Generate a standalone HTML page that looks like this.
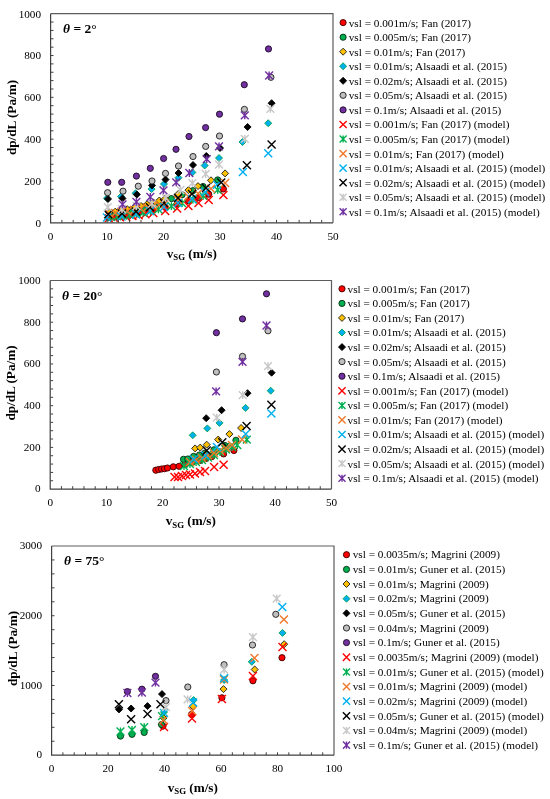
<!DOCTYPE html>
<html><head><meta charset="utf-8"><style>
html,body{margin:0;padding:0;background:#fff;}
svg{display:block;}
text{font-family:'Liberation Serif', 'DejaVu Serif', serif;fill:#000;}
.tl{font-size:11.2px;}
.lg{font-size:11.25px;}
.at{font-size:13.2px;font-weight:bold;}
.sub{font-size:8.8px;}
.th{font-size:13.5px;font-weight:bold;}
</style></head><body>
<svg width="550" height="799" viewBox="0 0 550 799">
<rect width="550" height="799" fill="#fff"/>
<circle cx="108.7" cy="217.7" r="3.10" fill="#ff0000" stroke="#3a0000" stroke-width="0.9"/>
<circle cx="114.3" cy="216.9" r="3.10" fill="#ff0000" stroke="#3a0000" stroke-width="0.9"/>
<circle cx="120.0" cy="216.1" r="3.10" fill="#ff0000" stroke="#3a0000" stroke-width="0.9"/>
<circle cx="126.2" cy="215.1" r="3.10" fill="#ff0000" stroke="#3a0000" stroke-width="0.9"/>
<circle cx="132.4" cy="214.1" r="3.10" fill="#ff0000" stroke="#3a0000" stroke-width="0.9"/>
<circle cx="138.6" cy="212.9" r="3.10" fill="#ff0000" stroke="#3a0000" stroke-width="0.9"/>
<circle cx="145.4" cy="211.6" r="3.10" fill="#ff0000" stroke="#3a0000" stroke-width="0.9"/>
<circle cx="153.3" cy="209.9" r="3.10" fill="#ff0000" stroke="#3a0000" stroke-width="0.9"/>
<circle cx="165.2" cy="207.1" r="3.10" fill="#ff0000" stroke="#3a0000" stroke-width="0.9"/>
<circle cx="177.1" cy="204.0" r="3.10" fill="#ff0000" stroke="#3a0000" stroke-width="0.9"/>
<circle cx="188.4" cy="200.7" r="3.10" fill="#ff0000" stroke="#3a0000" stroke-width="0.9"/>
<circle cx="198.5" cy="197.6" r="3.10" fill="#ff0000" stroke="#3a0000" stroke-width="0.9"/>
<circle cx="208.7" cy="194.2" r="3.10" fill="#ff0000" stroke="#3a0000" stroke-width="0.9"/>
<circle cx="223.4" cy="189.0" r="3.10" fill="#ff0000" stroke="#3a0000" stroke-width="0.9"/>
<circle cx="111.0" cy="213.9" r="3.10" fill="#00b050" stroke="#0a2a10" stroke-width="0.9"/>
<circle cx="117.2" cy="212.8" r="3.10" fill="#00b050" stroke="#0a2a10" stroke-width="0.9"/>
<circle cx="123.4" cy="211.6" r="3.10" fill="#00b050" stroke="#0a2a10" stroke-width="0.9"/>
<circle cx="129.6" cy="210.3" r="3.10" fill="#00b050" stroke="#0a2a10" stroke-width="0.9"/>
<circle cx="136.4" cy="208.7" r="3.10" fill="#00b050" stroke="#0a2a10" stroke-width="0.9"/>
<circle cx="143.2" cy="207.0" r="3.10" fill="#00b050" stroke="#0a2a10" stroke-width="0.9"/>
<circle cx="150.5" cy="205.0" r="3.10" fill="#00b050" stroke="#0a2a10" stroke-width="0.9"/>
<circle cx="158.4" cy="202.7" r="3.10" fill="#00b050" stroke="#0a2a10" stroke-width="0.9"/>
<circle cx="171.4" cy="198.6" r="3.10" fill="#00b050" stroke="#0a2a10" stroke-width="0.9"/>
<circle cx="182.1" cy="194.8" r="3.10" fill="#00b050" stroke="#0a2a10" stroke-width="0.9"/>
<circle cx="192.9" cy="190.7" r="3.10" fill="#00b050" stroke="#0a2a10" stroke-width="0.9"/>
<circle cx="203.1" cy="186.5" r="3.10" fill="#00b050" stroke="#0a2a10" stroke-width="0.9"/>
<circle cx="217.7" cy="179.9" r="3.10" fill="#00b050" stroke="#0a2a10" stroke-width="0.9"/>
<path d="M109.3 209.2L112.8 212.7L109.3 216.2L105.8 212.7Z" fill="#ffc000" stroke="#1a1a1a" stroke-width="0.9"/>
<path d="M115.2 208.2L118.7 211.7L115.2 215.2L111.7 211.7Z" fill="#ffc000" stroke="#1a1a1a" stroke-width="0.9"/>
<path d="M121.1 207.0L124.6 210.5L121.1 214.0L117.6 210.5Z" fill="#ffc000" stroke="#1a1a1a" stroke-width="0.9"/>
<path d="M127.3 205.7L130.8 209.2L127.3 212.7L123.8 209.2Z" fill="#ffc000" stroke="#1a1a1a" stroke-width="0.9"/>
<path d="M134.1 204.1L137.6 207.6L134.1 211.1L130.6 207.6Z" fill="#ffc000" stroke="#1a1a1a" stroke-width="0.9"/>
<path d="M140.9 202.4L144.4 205.9L140.9 209.4L137.4 205.9Z" fill="#ffc000" stroke="#1a1a1a" stroke-width="0.9"/>
<path d="M147.1 200.7L150.6 204.2L147.1 207.7L143.6 204.2Z" fill="#ffc000" stroke="#1a1a1a" stroke-width="0.9"/>
<path d="M153.3 198.9L156.8 202.4L153.3 205.9L149.8 202.4Z" fill="#ffc000" stroke="#1a1a1a" stroke-width="0.9"/>
<path d="M159.3 197.0L162.8 200.5L159.3 204.0L155.8 200.5Z" fill="#ffc000" stroke="#1a1a1a" stroke-width="0.9"/>
<path d="M165.2 195.1L168.7 198.6L165.2 202.1L161.7 198.6Z" fill="#ffc000" stroke="#1a1a1a" stroke-width="0.9"/>
<path d="M178.2 190.5L181.7 194.0L178.2 197.5L174.7 194.0Z" fill="#ffc000" stroke="#1a1a1a" stroke-width="0.9"/>
<path d="M188.4 186.6L191.9 190.1L188.4 193.6L184.9 190.1Z" fill="#ffc000" stroke="#1a1a1a" stroke-width="0.9"/>
<path d="M198.0 182.6L201.5 186.1L198.0 189.6L194.5 186.1Z" fill="#ffc000" stroke="#1a1a1a" stroke-width="0.9"/>
<path d="M211.0 176.8L214.5 180.3L211.0 183.8L207.5 180.3Z" fill="#ffc000" stroke="#1a1a1a" stroke-width="0.9"/>
<path d="M225.1 169.9L228.6 173.4L225.1 176.9L221.6 173.4Z" fill="#ffc000" stroke="#1a1a1a" stroke-width="0.9"/>
<path d="M107.0 194.7L110.5 198.2L107.0 201.7L103.5 198.2Z" fill="#00b0f0" stroke="#00a050" stroke-width="0.9"/>
<path d="M121.0 193.0L124.5 196.5L121.0 200.0L117.5 196.5Z" fill="#00b0f0" stroke="#00a050" stroke-width="0.9"/>
<path d="M135.6 189.7L139.1 193.2L135.6 196.7L132.1 193.2Z" fill="#00b0f0" stroke="#00a050" stroke-width="0.9"/>
<path d="M151.6 185.6L155.1 189.1L151.6 192.6L148.1 189.1Z" fill="#00b0f0" stroke="#00a050" stroke-width="0.9"/>
<path d="M164.0 180.5L167.5 184.0L164.0 187.5L160.5 184.0Z" fill="#00b0f0" stroke="#00a050" stroke-width="0.9"/>
<path d="M178.5 174.2L182.0 177.7L178.5 181.2L175.0 177.7Z" fill="#00b0f0" stroke="#00a050" stroke-width="0.9"/>
<path d="M192.4 168.9L195.9 172.4L192.4 175.9L188.9 172.4Z" fill="#00b0f0" stroke="#00a050" stroke-width="0.9"/>
<path d="M204.7 162.0L208.2 165.5L204.7 169.0L201.2 165.5Z" fill="#00b0f0" stroke="#00a050" stroke-width="0.9"/>
<path d="M219.0 154.5L222.5 158.0L219.0 161.5L215.5 158.0Z" fill="#00b0f0" stroke="#00a050" stroke-width="0.9"/>
<path d="M242.5 138.5L246.0 142.0L242.5 145.5L239.0 142.0Z" fill="#00b0f0" stroke="#00a050" stroke-width="0.9"/>
<path d="M268.2 119.7L271.7 123.2L268.2 126.7L264.7 123.2Z" fill="#00b0f0" stroke="#00a050" stroke-width="0.9"/>
<path d="M108.0 195.5L111.5 199.0L108.0 202.5L104.5 199.0Z" fill="#000000" stroke="#000000" stroke-width="0.9"/>
<path d="M122.5 194.9L126.0 198.4L122.5 201.9L119.0 198.4Z" fill="#000000" stroke="#000000" stroke-width="0.9"/>
<path d="M136.8 191.0L140.3 194.5L136.8 198.0L133.3 194.5Z" fill="#000000" stroke="#000000" stroke-width="0.9"/>
<path d="M152.0 181.9L155.5 185.4L152.0 188.9L148.5 185.4Z" fill="#000000" stroke="#000000" stroke-width="0.9"/>
<path d="M165.5 176.1L169.0 179.6L165.5 183.1L162.0 179.6Z" fill="#000000" stroke="#000000" stroke-width="0.9"/>
<path d="M178.5 169.5L182.0 173.0L178.5 176.5L175.0 173.0Z" fill="#000000" stroke="#000000" stroke-width="0.9"/>
<path d="M193.0 161.5L196.5 165.0L193.0 168.5L189.5 165.0Z" fill="#000000" stroke="#000000" stroke-width="0.9"/>
<path d="M206.3 152.5L209.8 156.0L206.3 159.5L202.8 156.0Z" fill="#000000" stroke="#000000" stroke-width="0.9"/>
<path d="M220.0 144.5L223.5 148.0L220.0 151.5L216.5 148.0Z" fill="#000000" stroke="#000000" stroke-width="0.9"/>
<path d="M247.6 123.5L251.1 127.0L247.6 130.5L244.1 127.0Z" fill="#000000" stroke="#000000" stroke-width="0.9"/>
<path d="M271.6 99.7L275.1 103.2L271.6 106.7L268.1 103.2Z" fill="#000000" stroke="#000000" stroke-width="0.9"/>
<circle cx="107.6" cy="192.7" r="3.10" fill="#bfbfbf" stroke="#1a1a1a" stroke-width="0.9"/>
<circle cx="123.0" cy="191.2" r="3.10" fill="#bfbfbf" stroke="#1a1a1a" stroke-width="0.9"/>
<circle cx="138.3" cy="186.2" r="3.10" fill="#bfbfbf" stroke="#1a1a1a" stroke-width="0.9"/>
<circle cx="152.0" cy="181.0" r="3.10" fill="#bfbfbf" stroke="#1a1a1a" stroke-width="0.9"/>
<circle cx="165.5" cy="173.4" r="3.10" fill="#bfbfbf" stroke="#1a1a1a" stroke-width="0.9"/>
<circle cx="178.5" cy="166.0" r="3.10" fill="#bfbfbf" stroke="#1a1a1a" stroke-width="0.9"/>
<circle cx="193.0" cy="156.5" r="3.10" fill="#bfbfbf" stroke="#1a1a1a" stroke-width="0.9"/>
<circle cx="205.7" cy="146.4" r="3.10" fill="#bfbfbf" stroke="#1a1a1a" stroke-width="0.9"/>
<circle cx="219.5" cy="136.0" r="3.10" fill="#bfbfbf" stroke="#1a1a1a" stroke-width="0.9"/>
<circle cx="244.4" cy="109.4" r="3.10" fill="#bfbfbf" stroke="#1a1a1a" stroke-width="0.9"/>
<circle cx="270.9" cy="77.3" r="3.10" fill="#bfbfbf" stroke="#1a1a1a" stroke-width="0.9"/>
<circle cx="107.8" cy="182.3" r="3.10" fill="#7030a0" stroke="#1a0a20" stroke-width="0.9"/>
<circle cx="121.7" cy="182.3" r="3.10" fill="#7030a0" stroke="#1a0a20" stroke-width="0.9"/>
<circle cx="136.4" cy="176.1" r="3.10" fill="#7030a0" stroke="#1a0a20" stroke-width="0.9"/>
<circle cx="150.3" cy="168.3" r="3.10" fill="#7030a0" stroke="#1a0a20" stroke-width="0.9"/>
<circle cx="163.6" cy="158.5" r="3.10" fill="#7030a0" stroke="#1a0a20" stroke-width="0.9"/>
<circle cx="176.0" cy="149.3" r="3.10" fill="#7030a0" stroke="#1a0a20" stroke-width="0.9"/>
<circle cx="189.0" cy="136.5" r="3.10" fill="#7030a0" stroke="#1a0a20" stroke-width="0.9"/>
<circle cx="205.6" cy="127.6" r="3.10" fill="#7030a0" stroke="#1a0a20" stroke-width="0.9"/>
<circle cx="219.5" cy="114.2" r="3.10" fill="#7030a0" stroke="#1a0a20" stroke-width="0.9"/>
<circle cx="244.3" cy="84.7" r="3.10" fill="#7030a0" stroke="#1a0a20" stroke-width="0.9"/>
<circle cx="268.5" cy="48.9" r="3.10" fill="#7030a0" stroke="#1a0a20" stroke-width="0.9"/>
<path d="M104.7 214.2L112.7 222.2M112.7 214.2L104.7 222.2" stroke="#ff0000" stroke-width="1.4" fill="none"/>
<path d="M110.3 213.8L118.3 221.8M118.3 213.8L110.3 221.8" stroke="#ff0000" stroke-width="1.4" fill="none"/>
<path d="M116.0 213.3L124.0 221.3M124.0 213.3L116.0 221.3" stroke="#ff0000" stroke-width="1.4" fill="none"/>
<path d="M122.2 212.7L130.2 220.7M130.2 212.7L122.2 220.7" stroke="#ff0000" stroke-width="1.4" fill="none"/>
<path d="M128.4 212.0L136.4 220.0M136.4 212.0L128.4 220.0" stroke="#ff0000" stroke-width="1.4" fill="none"/>
<path d="M134.6 211.3L142.6 219.3M142.6 211.3L134.6 219.3" stroke="#ff0000" stroke-width="1.4" fill="none"/>
<path d="M141.4 210.3L149.4 218.3M149.4 210.3L141.4 218.3" stroke="#ff0000" stroke-width="1.4" fill="none"/>
<path d="M149.3 209.1L157.3 217.1M157.3 209.1L149.3 217.1" stroke="#ff0000" stroke-width="1.4" fill="none"/>
<path d="M161.2 207.0L169.2 215.0M169.2 207.0L161.2 215.0" stroke="#ff0000" stroke-width="1.4" fill="none"/>
<path d="M173.1 204.6L181.1 212.6M181.1 204.6L173.1 212.6" stroke="#ff0000" stroke-width="1.4" fill="none"/>
<path d="M184.4 201.9L192.4 209.9M192.4 201.9L184.4 209.9" stroke="#ff0000" stroke-width="1.4" fill="none"/>
<path d="M194.5 199.1L202.5 207.1M202.5 199.1L194.5 207.1" stroke="#ff0000" stroke-width="1.4" fill="none"/>
<path d="M204.7 196.1L212.7 204.1M212.7 196.1L204.7 204.1" stroke="#ff0000" stroke-width="1.4" fill="none"/>
<path d="M219.4 191.1L227.4 199.1M227.4 191.1L219.4 199.1" stroke="#ff0000" stroke-width="1.4" fill="none"/>
<path d="M107.1 213.1L114.9 220.9M114.9 213.1L107.1 220.9M111.0 213.1L111.0 220.9" stroke="#00b050" stroke-width="1.4" fill="none"/>
<path d="M113.3 212.5L121.1 220.3M121.1 212.5L113.3 220.3M117.2 212.5L117.2 220.3" stroke="#00b050" stroke-width="1.4" fill="none"/>
<path d="M119.5 211.7L127.3 219.5M127.3 211.7L119.5 219.5M123.4 211.7L123.4 219.5" stroke="#00b050" stroke-width="1.4" fill="none"/>
<path d="M125.7 210.9L133.5 218.7M133.5 210.9L125.7 218.7M129.6 210.9L129.6 218.7" stroke="#00b050" stroke-width="1.4" fill="none"/>
<path d="M132.5 209.8L140.3 217.6M140.3 209.8L132.5 217.6M136.4 209.8L136.4 217.6" stroke="#00b050" stroke-width="1.4" fill="none"/>
<path d="M139.3 208.7L147.1 216.5M147.1 208.7L139.3 216.5M143.2 208.7L143.2 216.5" stroke="#00b050" stroke-width="1.4" fill="none"/>
<path d="M146.6 207.2L154.4 215.0M154.4 207.2L146.6 215.0M150.5 207.2L150.5 215.0" stroke="#00b050" stroke-width="1.4" fill="none"/>
<path d="M154.5 205.5L162.3 213.3M162.3 205.5L154.5 213.3M158.4 205.5L158.4 213.3" stroke="#00b050" stroke-width="1.4" fill="none"/>
<path d="M167.5 202.3L175.3 210.1M175.3 202.3L167.5 210.1M171.4 202.3L171.4 210.1" stroke="#00b050" stroke-width="1.4" fill="none"/>
<path d="M178.2 199.2L186.0 207.0M186.0 199.2L178.2 207.0M182.1 199.2L182.1 207.0" stroke="#00b050" stroke-width="1.4" fill="none"/>
<path d="M189.0 195.7L196.8 203.5M196.8 195.7L189.0 203.5M192.9 195.7L192.9 203.5" stroke="#00b050" stroke-width="1.4" fill="none"/>
<path d="M199.2 192.0L207.0 199.8M207.0 192.0L199.2 199.8M203.1 192.0L203.1 199.8" stroke="#00b050" stroke-width="1.4" fill="none"/>
<path d="M213.8 185.9L221.6 193.7M221.6 185.9L213.8 193.7M217.7 185.9L217.7 193.7" stroke="#00b050" stroke-width="1.4" fill="none"/>
<path d="M105.3 209.7L113.3 217.7M113.3 209.7L105.3 217.7" stroke="#f0782a" stroke-width="1.4" fill="none"/>
<path d="M111.2 209.0L119.2 217.0M119.2 209.0L111.2 217.0" stroke="#f0782a" stroke-width="1.4" fill="none"/>
<path d="M117.1 208.1L125.1 216.1M125.1 208.1L117.1 216.1" stroke="#f0782a" stroke-width="1.4" fill="none"/>
<path d="M123.3 207.2L131.3 215.2M131.3 207.2L123.3 215.2" stroke="#f0782a" stroke-width="1.4" fill="none"/>
<path d="M130.1 206.0L138.1 214.0M138.1 206.0L130.1 214.0" stroke="#f0782a" stroke-width="1.4" fill="none"/>
<path d="M136.9 204.8L144.9 212.8M144.9 204.8L136.9 212.8" stroke="#f0782a" stroke-width="1.4" fill="none"/>
<path d="M143.1 203.5L151.1 211.5M151.1 203.5L143.1 211.5" stroke="#f0782a" stroke-width="1.4" fill="none"/>
<path d="M149.3 202.2L157.3 210.2M157.3 202.2L149.3 210.2" stroke="#f0782a" stroke-width="1.4" fill="none"/>
<path d="M155.3 200.8L163.3 208.8M163.3 200.8L155.3 208.8" stroke="#f0782a" stroke-width="1.4" fill="none"/>
<path d="M161.2 199.3L169.2 207.3M169.2 199.3L161.2 207.3" stroke="#f0782a" stroke-width="1.4" fill="none"/>
<path d="M174.2 195.7L182.2 203.7M182.2 195.7L174.2 203.7" stroke="#f0782a" stroke-width="1.4" fill="none"/>
<path d="M184.4 192.6L192.4 200.6M192.4 192.6L184.4 200.6" stroke="#f0782a" stroke-width="1.4" fill="none"/>
<path d="M194.0 189.4L202.0 197.4M202.0 189.4L194.0 197.4" stroke="#f0782a" stroke-width="1.4" fill="none"/>
<path d="M207.0 184.7L215.0 192.7M215.0 184.7L207.0 192.7" stroke="#f0782a" stroke-width="1.4" fill="none"/>
<path d="M221.1 178.9L229.1 186.9M229.1 178.9L221.1 186.9" stroke="#f0782a" stroke-width="1.4" fill="none"/>
<path d="M103.0 213.5L111.0 221.5M111.0 213.5L103.0 221.5" stroke="#00b0f0" stroke-width="1.4" fill="none"/>
<path d="M117.5 212.5L125.5 220.5M125.5 212.5L117.5 220.5" stroke="#00b0f0" stroke-width="1.4" fill="none"/>
<path d="M132.0 210.5L140.0 218.5M140.0 210.5L132.0 218.5" stroke="#00b0f0" stroke-width="1.4" fill="none"/>
<path d="M146.0 207.0L154.0 215.0M154.0 207.0L146.0 215.0" stroke="#00b0f0" stroke-width="1.4" fill="none"/>
<path d="M160.0 203.0L168.0 211.0M168.0 203.0L160.0 211.0" stroke="#00b0f0" stroke-width="1.4" fill="none"/>
<path d="M174.0 199.0L182.0 207.0M182.0 199.0L174.0 207.0" stroke="#00b0f0" stroke-width="1.4" fill="none"/>
<path d="M188.0 195.0L196.0 203.0M196.0 195.0L188.0 203.0" stroke="#00b0f0" stroke-width="1.4" fill="none"/>
<path d="M201.2 188.0L209.2 196.0M209.2 188.0L201.2 196.0" stroke="#00b0f0" stroke-width="1.4" fill="none"/>
<path d="M213.0 180.7L221.0 188.7M221.0 180.7L213.0 188.7" stroke="#00b0f0" stroke-width="1.4" fill="none"/>
<path d="M238.9 168.1L246.9 176.1M246.9 168.1L238.9 176.1" stroke="#00b0f0" stroke-width="1.4" fill="none"/>
<path d="M264.2 149.3L272.2 157.3M272.2 149.3L264.2 157.3" stroke="#00b0f0" stroke-width="1.4" fill="none"/>
<path d="M104.2 210.2L112.2 218.2M112.2 210.2L104.2 218.2" stroke="#000000" stroke-width="1.4" fill="none"/>
<path d="M118.0 209.5L126.0 217.5M126.0 209.5L118.0 217.5" stroke="#000000" stroke-width="1.4" fill="none"/>
<path d="M132.0 207.5L140.0 215.5M140.0 207.5L132.0 215.5" stroke="#000000" stroke-width="1.4" fill="none"/>
<path d="M146.0 203.3L154.0 211.3M154.0 203.3L146.0 211.3" stroke="#000000" stroke-width="1.4" fill="none"/>
<path d="M160.0 199.0L168.0 207.0M168.0 199.0L160.0 207.0" stroke="#000000" stroke-width="1.4" fill="none"/>
<path d="M174.0 194.0L182.0 202.0M182.0 194.0L174.0 202.0" stroke="#000000" stroke-width="1.4" fill="none"/>
<path d="M188.0 190.0L196.0 198.0M196.0 190.0L188.0 198.0" stroke="#000000" stroke-width="1.4" fill="none"/>
<path d="M202.0 184.0L210.0 192.0M210.0 184.0L202.0 192.0" stroke="#000000" stroke-width="1.4" fill="none"/>
<path d="M217.2 178.6L225.2 186.6M225.2 178.6L217.2 186.6" stroke="#000000" stroke-width="1.4" fill="none"/>
<path d="M242.9 161.2L250.9 169.2M250.9 161.2L242.9 169.2" stroke="#000000" stroke-width="1.4" fill="none"/>
<path d="M267.6 140.5L275.6 148.5M275.6 140.5L267.6 148.5" stroke="#000000" stroke-width="1.4" fill="none"/>
<path d="M103.9 203.3L111.7 211.1M111.7 203.3L103.9 211.1M107.8 203.3L107.8 211.1" stroke="#c8c8c8" stroke-width="1.4" fill="none"/>
<path d="M118.1 205.1L125.9 212.9M125.9 205.1L118.1 212.9M122.0 205.1L122.0 212.9" stroke="#c8c8c8" stroke-width="1.4" fill="none"/>
<path d="M132.6 202.1L140.4 209.9M140.4 202.1L132.6 209.9M136.5 202.1L136.5 209.9" stroke="#c8c8c8" stroke-width="1.4" fill="none"/>
<path d="M148.1 199.7L155.9 207.5M155.9 199.7L148.1 207.5M152.0 199.7L152.0 207.5" stroke="#c8c8c8" stroke-width="1.4" fill="none"/>
<path d="M161.9 194.1L169.7 201.9M169.7 194.1L161.9 201.9M165.8 194.1L165.8 201.9" stroke="#c8c8c8" stroke-width="1.4" fill="none"/>
<path d="M176.5 186.1L184.3 193.9M184.3 186.1L176.5 193.9M180.4 186.1L180.4 193.9" stroke="#c8c8c8" stroke-width="1.4" fill="none"/>
<path d="M188.5 179.2L196.3 187.0M196.3 179.2L188.5 187.0M192.4 179.2L192.4 187.0" stroke="#c8c8c8" stroke-width="1.4" fill="none"/>
<path d="M201.8 170.1L209.6 177.9M209.6 170.1L201.8 177.9M205.7 170.1L205.7 177.9" stroke="#c8c8c8" stroke-width="1.4" fill="none"/>
<path d="M215.1 160.6L222.9 168.4M222.9 160.6L215.1 168.4M219.0 160.6L219.0 168.4" stroke="#c8c8c8" stroke-width="1.4" fill="none"/>
<path d="M240.9 135.0L248.7 142.8M248.7 135.0L240.9 142.8M244.8 135.0L244.8 142.8" stroke="#c8c8c8" stroke-width="1.4" fill="none"/>
<path d="M266.5 104.9L274.3 112.7M274.3 104.9L266.5 112.7M270.4 104.9L270.4 112.7" stroke="#c8c8c8" stroke-width="1.4" fill="none"/>
<path d="M118.6 200.5L126.4 208.3M126.4 200.5L118.6 208.3M122.5 200.5L122.5 208.3" stroke="#7030a0" stroke-width="1.4" fill="none"/>
<path d="M132.5 198.0L140.3 205.8M140.3 198.0L132.5 205.8M136.4 198.0L136.4 205.8" stroke="#7030a0" stroke-width="1.4" fill="none"/>
<path d="M146.4 193.1L154.2 200.9M154.2 193.1L146.4 200.9M150.3 193.1L150.3 200.9" stroke="#7030a0" stroke-width="1.4" fill="none"/>
<path d="M159.6 186.5L167.4 194.3M167.4 186.5L159.6 194.3M163.5 186.5L163.5 194.3" stroke="#7030a0" stroke-width="1.4" fill="none"/>
<path d="M172.3 178.5L180.1 186.3M180.1 178.5L172.3 186.3M176.2 178.5L176.2 186.3" stroke="#7030a0" stroke-width="1.4" fill="none"/>
<path d="M185.4 169.1L193.2 176.9M193.2 169.1L185.4 176.9M189.3 169.1L189.3 176.9" stroke="#7030a0" stroke-width="1.4" fill="none"/>
<path d="M202.9 155.2L210.7 163.0M210.7 155.2L202.9 163.0M206.8 155.2L206.8 163.0" stroke="#7030a0" stroke-width="1.4" fill="none"/>
<path d="M215.1 142.5L222.9 150.3M222.9 142.5L215.1 150.3M219.0 142.5L219.0 150.3" stroke="#7030a0" stroke-width="1.4" fill="none"/>
<path d="M240.9 111.4L248.7 119.2M248.7 111.4L240.9 119.2M244.8 111.4L244.8 119.2" stroke="#7030a0" stroke-width="1.4" fill="none"/>
<path d="M265.2 71.6L273.0 79.4M273.0 71.6L265.2 79.4M269.1 71.6L269.1 79.4" stroke="#7030a0" stroke-width="1.4" fill="none"/>
<path d="M50.6 13.7H333V222.8" fill="none" stroke="#5c5c5c" stroke-width="1.2"/>
<path d="M50.6 13.7V222.8H333" fill="none" stroke="#404040" stroke-width="1.2"/>
<path d="M61.90 222.8v-2.9M73.19 222.8v-2.9M84.49 222.8v-2.9M95.78 222.8v-2.9M107.08 222.8v-2.9M118.38 222.8v-2.9M129.67 222.8v-2.9M140.97 222.8v-2.9M152.26 222.8v-2.9M163.56 222.8v-2.9M174.86 222.8v-2.9M186.15 222.8v-2.9M197.45 222.8v-2.9M208.74 222.8v-2.9M220.04 222.8v-2.9M231.34 222.8v-2.9M242.63 222.8v-2.9M253.93 222.8v-2.9M265.22 222.8v-2.9M276.52 222.8v-2.9M287.82 222.8v-2.9M299.11 222.8v-2.9M310.41 222.8v-2.9M321.70 222.8v-2.9M50.6 214.44h2.9M50.6 206.07h2.9M50.6 197.71h2.9M50.6 189.34h2.9M50.6 180.98h2.9M50.6 172.62h2.9M50.6 164.25h2.9M50.6 155.89h2.9M50.6 147.52h2.9M50.6 139.16h2.9M50.6 130.80h2.9M50.6 122.43h2.9M50.6 114.07h2.9M50.6 105.70h2.9M50.6 97.34h2.9M50.6 88.98h2.9M50.6 80.61h2.9M50.6 72.25h2.9M50.6 63.88h2.9M50.6 55.52h2.9M50.6 47.16h2.9M50.6 38.79h2.9M50.6 30.43h2.9M50.6 22.06h2.9" stroke="#404040" stroke-width="1" fill="none"/>
<text x="50.6" y="239.8" text-anchor="middle" class="tl">0</text>
<text x="107.1" y="239.8" text-anchor="middle" class="tl">10</text>
<text x="163.6" y="239.8" text-anchor="middle" class="tl">20</text>
<text x="220.0" y="239.8" text-anchor="middle" class="tl">30</text>
<text x="276.5" y="239.8" text-anchor="middle" class="tl">40</text>
<text x="333.0" y="239.8" text-anchor="middle" class="tl">50</text>
<text x="41" y="226.6" text-anchor="end" class="tl">0</text>
<text x="41" y="184.8" text-anchor="end" class="tl">200</text>
<text x="41" y="143.0" text-anchor="end" class="tl">400</text>
<text x="41" y="101.1" text-anchor="end" class="tl">600</text>
<text x="41" y="59.3" text-anchor="end" class="tl">800</text>
<text x="41" y="17.5" text-anchor="end" class="tl">1000</text>
<text transform="translate(15.8 117.5) rotate(-90)" text-anchor="middle" class="at">dp/dL (Pa/m)</text>
<text x="191.8" y="257.8" text-anchor="middle" class="at">v<tspan class="sub" dy="2.2">SG</tspan><tspan dy="-2.2"> (m/s)</tspan></text>
<text x="63.1" y="32.5" class="th"><tspan font-style="italic">θ</tspan> = 2°</text>
<circle cx="343.1" cy="22.6" r="3.10" fill="#ff0000" stroke="#3a0000" stroke-width="0.9"/>
<text x="348.7" y="26.5" class="lg">vsl = 0.001m/s; Fan (2017)</text>
<circle cx="343.1" cy="37.2" r="3.10" fill="#00b050" stroke="#0a2a10" stroke-width="0.9"/>
<text x="348.7" y="41.1" class="lg">vsl = 0.005m/s; Fan (2017)</text>
<path d="M343.1 48.2L346.6 51.7L343.1 55.2L339.6 51.7Z" fill="#ffc000" stroke="#1a1a1a" stroke-width="0.9"/>
<text x="348.7" y="55.6" class="lg">vsl = 0.01m/s; Fan (2017)</text>
<path d="M343.1 62.8L346.6 66.2L343.1 69.8L339.6 66.2Z" fill="#00b0f0" stroke="#00a050" stroke-width="0.9"/>
<text x="348.7" y="70.2" class="lg">vsl = 0.01m/s; Alsaadi et al. (2015)</text>
<path d="M343.1 77.3L346.6 80.8L343.1 84.3L339.6 80.8Z" fill="#000000" stroke="#000000" stroke-width="0.9"/>
<text x="348.7" y="84.7" class="lg">vsl = 0.02m/s; Alsaadi et al. (2015)</text>
<circle cx="343.1" cy="95.3" r="3.10" fill="#bfbfbf" stroke="#1a1a1a" stroke-width="0.9"/>
<text x="348.7" y="99.2" class="lg">vsl = 0.05m/s; Alsaadi et al. (2015)</text>
<circle cx="343.1" cy="109.9" r="3.10" fill="#7030a0" stroke="#1a0a20" stroke-width="0.9"/>
<text x="348.7" y="113.8" class="lg">vsl = 0.1m/s; Alsaadi et al. (2015)</text>
<path d="M339.5 120.9L346.7 128.1M346.7 120.9L339.5 128.1" stroke="#ff0000" stroke-width="1.4" fill="none"/>
<text x="348.7" y="128.4" class="lg">vsl = 0.001m/s; Fan (2017) (model)</text>
<path d="M339.6 135.5L346.6 142.5M346.6 135.5L339.6 142.5M343.1 135.5L343.1 142.5" stroke="#00b050" stroke-width="1.4" fill="none"/>
<text x="348.7" y="142.9" class="lg">vsl = 0.005m/s; Fan (2017) (model)</text>
<path d="M339.5 150.0L346.7 157.2M346.7 150.0L339.5 157.2" stroke="#f0782a" stroke-width="1.4" fill="none"/>
<text x="348.7" y="157.5" class="lg">vsl = 0.01m/s; Fan (2017) (model)</text>
<path d="M339.5 164.5L346.7 171.7M346.7 164.5L339.5 171.7" stroke="#00b0f0" stroke-width="1.4" fill="none"/>
<text x="348.7" y="172.0" class="lg">vsl = 0.01m/s; Alsaadi et al. (2015) (model)</text>
<path d="M339.5 179.1L346.7 186.2M346.7 179.1L339.5 186.2" stroke="#000000" stroke-width="1.4" fill="none"/>
<text x="348.7" y="186.6" class="lg">vsl = 0.02m/s; Alsaadi et al. (2015) (model)</text>
<path d="M339.6 193.7L346.6 200.7M346.6 193.7L339.6 200.7M343.1 193.7L343.1 200.7" stroke="#c8c8c8" stroke-width="1.4" fill="none"/>
<text x="348.7" y="201.1" class="lg">vsl = 0.05m/s; Alsaadi et al. (2015) (model)</text>
<path d="M339.6 208.2L346.6 215.3M346.6 208.2L339.6 215.3M343.1 208.2L343.1 215.3" stroke="#7030a0" stroke-width="1.4" fill="none"/>
<text x="348.7" y="215.7" class="lg">vsl = 0.1m/s; Alsaadi et al. (2015) (model)</text><circle cx="155.8" cy="470.2" r="3.10" fill="#ff0000" stroke="#3a0000" stroke-width="0.9"/>
<circle cx="158.7" cy="469.5" r="3.10" fill="#ff0000" stroke="#3a0000" stroke-width="0.9"/>
<circle cx="161.6" cy="469.0" r="3.10" fill="#ff0000" stroke="#3a0000" stroke-width="0.9"/>
<circle cx="164.5" cy="468.7" r="3.10" fill="#ff0000" stroke="#3a0000" stroke-width="0.9"/>
<circle cx="167.5" cy="468.0" r="3.10" fill="#ff0000" stroke="#3a0000" stroke-width="0.9"/>
<circle cx="173.3" cy="466.8" r="3.10" fill="#ff0000" stroke="#3a0000" stroke-width="0.9"/>
<circle cx="179.1" cy="466.3" r="3.10" fill="#ff0000" stroke="#3a0000" stroke-width="0.9"/>
<circle cx="185.0" cy="464.5" r="3.10" fill="#ff0000" stroke="#3a0000" stroke-width="0.9"/>
<circle cx="192.0" cy="462.5" r="3.10" fill="#ff0000" stroke="#3a0000" stroke-width="0.9"/>
<circle cx="200.0" cy="460.5" r="3.10" fill="#ff0000" stroke="#3a0000" stroke-width="0.9"/>
<circle cx="206.0" cy="458.5" r="3.10" fill="#ff0000" stroke="#3a0000" stroke-width="0.9"/>
<circle cx="212.0" cy="456.6" r="3.10" fill="#ff0000" stroke="#3a0000" stroke-width="0.9"/>
<circle cx="223.6" cy="453.9" r="3.10" fill="#ff0000" stroke="#3a0000" stroke-width="0.9"/>
<circle cx="233.9" cy="450.5" r="3.10" fill="#ff0000" stroke="#3a0000" stroke-width="0.9"/>
<circle cx="183.5" cy="459.3" r="3.10" fill="#00b050" stroke="#0a2a10" stroke-width="0.9"/>
<circle cx="187.8" cy="459.0" r="3.10" fill="#00b050" stroke="#0a2a10" stroke-width="0.9"/>
<circle cx="193.6" cy="456.4" r="3.10" fill="#00b050" stroke="#0a2a10" stroke-width="0.9"/>
<circle cx="199.5" cy="455.0" r="3.10" fill="#00b050" stroke="#0a2a10" stroke-width="0.9"/>
<circle cx="205.0" cy="453.0" r="3.10" fill="#00b050" stroke="#0a2a10" stroke-width="0.9"/>
<circle cx="214.0" cy="449.8" r="3.10" fill="#00b050" stroke="#0a2a10" stroke-width="0.9"/>
<circle cx="225.0" cy="445.5" r="3.10" fill="#00b050" stroke="#0a2a10" stroke-width="0.9"/>
<circle cx="235.9" cy="440.3" r="3.10" fill="#00b050" stroke="#0a2a10" stroke-width="0.9"/>
<path d="M195.1 444.9L198.6 448.4L195.1 451.9L191.6 448.4Z" fill="#ffc000" stroke="#1a1a1a" stroke-width="0.9"/>
<path d="M200.2 444.1L203.7 447.6L200.2 451.1L196.7 447.6Z" fill="#ffc000" stroke="#1a1a1a" stroke-width="0.9"/>
<path d="M206.7 441.2L210.2 444.7L206.7 448.2L203.2 444.7Z" fill="#ffc000" stroke="#1a1a1a" stroke-width="0.9"/>
<path d="M218.2 436.1L221.7 439.6L218.2 443.1L214.7 439.6Z" fill="#ffc000" stroke="#1a1a1a" stroke-width="0.9"/>
<path d="M229.4 430.6L232.9 434.1L229.4 437.6L225.9 434.1Z" fill="#ffc000" stroke="#1a1a1a" stroke-width="0.9"/>
<path d="M241.1 424.5L244.6 428.0L241.1 431.5L237.6 428.0Z" fill="#ffc000" stroke="#1a1a1a" stroke-width="0.9"/>
<path d="M192.7 431.8L196.2 435.3L192.7 438.8L189.2 435.3Z" fill="#00b0f0" stroke="#00a050" stroke-width="0.9"/>
<path d="M207.3 424.9L210.8 428.4L207.3 431.9L203.8 428.4Z" fill="#00b0f0" stroke="#00a050" stroke-width="0.9"/>
<path d="M219.5 419.4L223.0 422.9L219.5 426.4L216.0 422.9Z" fill="#00b0f0" stroke="#00a050" stroke-width="0.9"/>
<path d="M245.5 404.4L249.0 407.9L245.5 411.4L242.0 407.9Z" fill="#00b0f0" stroke="#00a050" stroke-width="0.9"/>
<path d="M270.7 387.2L274.2 390.7L270.7 394.2L267.2 390.7Z" fill="#00b0f0" stroke="#00a050" stroke-width="0.9"/>
<path d="M206.2 414.7L209.7 418.2L206.2 421.7L202.7 418.2Z" fill="#000000" stroke="#000000" stroke-width="0.9"/>
<path d="M221.6 406.7L225.1 410.2L221.6 413.7L218.1 410.2Z" fill="#000000" stroke="#000000" stroke-width="0.9"/>
<path d="M247.5 389.7L251.0 393.2L247.5 396.7L244.0 393.2Z" fill="#000000" stroke="#000000" stroke-width="0.9"/>
<path d="M271.6 369.2L275.1 372.7L271.6 376.2L268.1 372.7Z" fill="#000000" stroke="#000000" stroke-width="0.9"/>
<circle cx="216.4" cy="372.0" r="3.10" fill="#bfbfbf" stroke="#1a1a1a" stroke-width="0.9"/>
<circle cx="242.5" cy="356.4" r="3.10" fill="#bfbfbf" stroke="#1a1a1a" stroke-width="0.9"/>
<circle cx="268.0" cy="330.8" r="3.10" fill="#bfbfbf" stroke="#1a1a1a" stroke-width="0.9"/>
<circle cx="216.4" cy="332.7" r="3.10" fill="#7030a0" stroke="#1a0a20" stroke-width="0.9"/>
<circle cx="242.5" cy="318.9" r="3.10" fill="#7030a0" stroke="#1a0a20" stroke-width="0.9"/>
<circle cx="266.5" cy="293.8" r="3.10" fill="#7030a0" stroke="#1a0a20" stroke-width="0.9"/>
<path d="M170.5 473.0L178.5 481.0M178.5 473.0L170.5 481.0" stroke="#ff0000" stroke-width="1.4" fill="none"/>
<path d="M174.0 473.0L182.0 481.0M182.0 473.0L174.0 481.0" stroke="#ff0000" stroke-width="1.4" fill="none"/>
<path d="M178.0 472.0L186.0 480.0M186.0 472.0L178.0 480.0" stroke="#ff0000" stroke-width="1.4" fill="none"/>
<path d="M182.0 471.0L190.0 479.0M190.0 471.0L182.0 479.0" stroke="#ff0000" stroke-width="1.4" fill="none"/>
<path d="M186.0 470.5L194.0 478.5M194.0 470.5L186.0 478.5" stroke="#ff0000" stroke-width="1.4" fill="none"/>
<path d="M191.0 469.5L199.0 477.5M199.0 469.5L191.0 477.5" stroke="#ff0000" stroke-width="1.4" fill="none"/>
<path d="M196.0 468.0L204.0 476.0M204.0 468.0L196.0 476.0" stroke="#ff0000" stroke-width="1.4" fill="none"/>
<path d="M201.0 467.0L209.0 475.0M209.0 467.0L201.0 475.0" stroke="#ff0000" stroke-width="1.4" fill="none"/>
<path d="M210.1 462.9L218.1 470.9M218.1 462.9L210.1 470.9" stroke="#ff0000" stroke-width="1.4" fill="none"/>
<path d="M219.6 460.8L227.6 468.8M227.6 460.8L219.6 468.8" stroke="#ff0000" stroke-width="1.4" fill="none"/>
<path d="M180.1 462.1L187.9 469.9M187.9 462.1L180.1 469.9M184.0 462.1L184.0 469.9" stroke="#00b050" stroke-width="1.4" fill="none"/>
<path d="M186.1 460.1L193.9 467.9M193.9 460.1L186.1 467.9M190.0 460.1L190.0 467.9" stroke="#00b050" stroke-width="1.4" fill="none"/>
<path d="M192.1 458.1L199.9 465.9M199.9 458.1L192.1 465.9M196.0 458.1L196.0 465.9" stroke="#00b050" stroke-width="1.4" fill="none"/>
<path d="M198.1 456.1L205.9 463.9M205.9 456.1L198.1 463.9M202.0 456.1L202.0 463.9" stroke="#00b050" stroke-width="1.4" fill="none"/>
<path d="M204.1 453.6L211.9 461.4M211.9 453.6L204.1 461.4M208.0 453.6L208.0 461.4" stroke="#00b050" stroke-width="1.4" fill="none"/>
<path d="M210.1 451.1L217.9 458.9M217.9 451.1L210.1 458.9M214.0 451.1L214.0 458.9" stroke="#00b050" stroke-width="1.4" fill="none"/>
<path d="M216.1 448.1L223.9 455.9M223.9 448.1L216.1 455.9M220.0 448.1L220.0 455.9" stroke="#00b050" stroke-width="1.4" fill="none"/>
<path d="M222.1 445.6L229.9 453.4M229.9 445.6L222.1 453.4M226.0 445.6L226.0 453.4" stroke="#00b050" stroke-width="1.4" fill="none"/>
<path d="M228.1 443.1L235.9 450.9M235.9 443.1L228.1 450.9M232.0 443.1L232.0 450.9" stroke="#00b050" stroke-width="1.4" fill="none"/>
<path d="M233.4 441.1L241.2 448.9M241.2 441.1L233.4 448.9M237.3 441.1L237.3 448.9" stroke="#00b050" stroke-width="1.4" fill="none"/>
<path d="M242.9 435.7L250.7 443.5M250.7 435.7L242.9 443.5M246.8 435.7L246.8 443.5" stroke="#00b050" stroke-width="1.4" fill="none"/>
<path d="M186.0 458.0L194.0 466.0M194.0 458.0L186.0 466.0" stroke="#f0782a" stroke-width="1.4" fill="none"/>
<path d="M192.0 456.0L200.0 464.0M200.0 456.0L192.0 464.0" stroke="#f0782a" stroke-width="1.4" fill="none"/>
<path d="M198.0 454.0L206.0 462.0M206.0 454.0L198.0 462.0" stroke="#f0782a" stroke-width="1.4" fill="none"/>
<path d="M204.0 451.5L212.0 459.5M212.0 451.5L204.0 459.5" stroke="#f0782a" stroke-width="1.4" fill="none"/>
<path d="M210.0 449.0L218.0 457.0M218.0 449.0L210.0 457.0" stroke="#f0782a" stroke-width="1.4" fill="none"/>
<path d="M216.0 446.5L224.0 454.5M224.0 446.5L216.0 454.5" stroke="#f0782a" stroke-width="1.4" fill="none"/>
<path d="M222.0 444.0L230.0 452.0M230.0 444.0L222.0 452.0" stroke="#f0782a" stroke-width="1.4" fill="none"/>
<path d="M228.0 441.0L236.0 449.0M236.0 441.0L228.0 449.0" stroke="#f0782a" stroke-width="1.4" fill="none"/>
<path d="M238.0 435.6L246.0 443.6M246.0 435.6L238.0 443.6" stroke="#f0782a" stroke-width="1.4" fill="none"/>
<path d="M189.6 455.3L197.6 463.3M197.6 455.3L189.6 463.3" stroke="#00b0f0" stroke-width="1.4" fill="none"/>
<path d="M201.3 451.6L209.3 459.6M209.3 451.6L201.3 459.6" stroke="#00b0f0" stroke-width="1.4" fill="none"/>
<path d="M212.9 442.9L220.9 450.9M220.9 442.9L212.9 450.9" stroke="#00b0f0" stroke-width="1.4" fill="none"/>
<path d="M241.7 430.1L249.7 438.1M249.7 430.1L241.7 438.1" stroke="#00b0f0" stroke-width="1.4" fill="none"/>
<path d="M267.4 409.6L275.4 417.6M275.4 409.6L267.4 417.6" stroke="#00b0f0" stroke-width="1.4" fill="none"/>
<path d="M202.7 446.5L210.7 454.5M210.7 446.5L202.7 454.5" stroke="#000000" stroke-width="1.4" fill="none"/>
<path d="M218.3 438.3L226.3 446.3M226.3 438.3L218.3 446.3" stroke="#000000" stroke-width="1.4" fill="none"/>
<path d="M242.6 421.9L250.6 429.9M250.6 421.9L242.6 429.9" stroke="#000000" stroke-width="1.4" fill="none"/>
<path d="M267.4 400.8L275.4 408.8M275.4 400.8L267.4 408.8" stroke="#000000" stroke-width="1.4" fill="none"/>
<path d="M212.9 413.8L220.7 421.6M220.7 413.8L212.9 421.6M216.8 413.8L216.8 421.6" stroke="#c8c8c8" stroke-width="1.4" fill="none"/>
<path d="M238.8 391.3L246.6 399.1M246.6 391.3L238.8 399.1M242.7 391.3L242.7 399.1" stroke="#c8c8c8" stroke-width="1.4" fill="none"/>
<path d="M264.1 362.3L271.9 370.1M271.9 362.3L264.1 370.1M268.0 362.3L268.0 370.1" stroke="#c8c8c8" stroke-width="1.4" fill="none"/>
<path d="M212.2 387.4L220.0 395.2M220.0 387.4L212.2 395.2M216.1 387.4L216.1 395.2" stroke="#7030a0" stroke-width="1.4" fill="none"/>
<path d="M238.6 357.9L246.4 365.7M246.4 357.9L238.6 365.7M242.5 357.9L242.5 365.7" stroke="#7030a0" stroke-width="1.4" fill="none"/>
<path d="M262.6 321.6L270.4 329.4M270.4 321.6L262.6 329.4M266.5 321.6L266.5 329.4" stroke="#7030a0" stroke-width="1.4" fill="none"/>
<path d="M50.2 280.5H331.5V489.1" fill="none" stroke="#5c5c5c" stroke-width="1.2"/>
<path d="M50.2 280.5V489.1H331.5" fill="none" stroke="#404040" stroke-width="1.2"/>
<path d="M61.45 489.1v-2.9M72.70 489.1v-2.9M83.96 489.1v-2.9M95.21 489.1v-2.9M106.46 489.1v-2.9M117.71 489.1v-2.9M128.96 489.1v-2.9M140.22 489.1v-2.9M151.47 489.1v-2.9M162.72 489.1v-2.9M173.97 489.1v-2.9M185.22 489.1v-2.9M196.48 489.1v-2.9M207.73 489.1v-2.9M218.98 489.1v-2.9M230.23 489.1v-2.9M241.48 489.1v-2.9M252.74 489.1v-2.9M263.99 489.1v-2.9M275.24 489.1v-2.9M286.49 489.1v-2.9M297.74 489.1v-2.9M309.00 489.1v-2.9M320.25 489.1v-2.9M50.2 480.76h2.9M50.2 472.41h2.9M50.2 464.07h2.9M50.2 455.72h2.9M50.2 447.38h2.9M50.2 439.04h2.9M50.2 430.69h2.9M50.2 422.35h2.9M50.2 414.00h2.9M50.2 405.66h2.9M50.2 397.32h2.9M50.2 388.97h2.9M50.2 380.63h2.9M50.2 372.28h2.9M50.2 363.94h2.9M50.2 355.60h2.9M50.2 347.25h2.9M50.2 338.91h2.9M50.2 330.56h2.9M50.2 322.22h2.9M50.2 313.88h2.9M50.2 305.53h2.9M50.2 297.19h2.9M50.2 288.84h2.9" stroke="#404040" stroke-width="1" fill="none"/>
<text x="50.2" y="506.1" text-anchor="middle" class="tl">0</text>
<text x="106.5" y="506.1" text-anchor="middle" class="tl">10</text>
<text x="162.7" y="506.1" text-anchor="middle" class="tl">20</text>
<text x="219.0" y="506.1" text-anchor="middle" class="tl">30</text>
<text x="275.2" y="506.1" text-anchor="middle" class="tl">40</text>
<text x="331.5" y="506.1" text-anchor="middle" class="tl">50</text>
<text x="40.5" y="492.4" text-anchor="end" class="tl">0</text>
<text x="40.5" y="450.7" text-anchor="end" class="tl">200</text>
<text x="40.5" y="409.0" text-anchor="end" class="tl">400</text>
<text x="40.5" y="367.2" text-anchor="end" class="tl">600</text>
<text x="40.5" y="325.5" text-anchor="end" class="tl">800</text>
<text x="40.5" y="283.8" text-anchor="end" class="tl">1000</text>
<text transform="translate(15.3 383.0) rotate(-90)" text-anchor="middle" class="at">dp/dL (Pa/m)</text>
<text x="190.8" y="525.3000000000001" text-anchor="middle" class="at">v<tspan class="sub" dy="2.2">SG</tspan><tspan dy="-2.2"> (m/s)</tspan></text>
<text x="62.0" y="299.5" class="th"><tspan font-style="italic">θ</tspan> = 20°</text>
<circle cx="342.0" cy="288.8" r="3.10" fill="#ff0000" stroke="#3a0000" stroke-width="0.9"/>
<text x="347.5" y="292.7" class="lg">vsl = 0.001m/s; Fan (2017)</text>
<circle cx="342.0" cy="303.4" r="3.10" fill="#00b050" stroke="#0a2a10" stroke-width="0.9"/>
<text x="347.5" y="307.3" class="lg">vsl = 0.005m/s; Fan (2017)</text>
<path d="M342.0 314.4L345.5 317.9L342.0 321.4L338.5 317.9Z" fill="#ffc000" stroke="#1a1a1a" stroke-width="0.9"/>
<text x="347.5" y="321.8" class="lg">vsl = 0.01m/s; Fan (2017)</text>
<path d="M342.0 329.0L345.5 332.5L342.0 336.0L338.5 332.5Z" fill="#00b0f0" stroke="#00a050" stroke-width="0.9"/>
<text x="347.5" y="336.4" class="lg">vsl = 0.01m/s; Alsaadi et al. (2015)</text>
<path d="M342.0 343.6L345.5 347.1L342.0 350.6L338.5 347.1Z" fill="#000000" stroke="#000000" stroke-width="0.9"/>
<text x="347.5" y="351.0" class="lg">vsl = 0.02m/s; Alsaadi et al. (2015)</text>
<circle cx="342.0" cy="361.6" r="3.10" fill="#bfbfbf" stroke="#1a1a1a" stroke-width="0.9"/>
<text x="347.5" y="365.5" class="lg">vsl = 0.05m/s; Alsaadi et al. (2015)</text>
<circle cx="342.0" cy="376.2" r="3.10" fill="#7030a0" stroke="#1a0a20" stroke-width="0.9"/>
<text x="347.5" y="380.1" class="lg">vsl = 0.1m/s; Alsaadi et al. (2015)</text>
<path d="M338.4 387.2L345.6 394.4M345.6 387.2L338.4 394.4" stroke="#ff0000" stroke-width="1.4" fill="none"/>
<text x="347.5" y="394.7" class="lg">vsl = 0.001m/s; Fan (2017) (model)</text>
<path d="M338.5 401.9L345.5 408.9M345.5 401.9L338.5 408.9M342.0 401.9L342.0 408.9" stroke="#00b050" stroke-width="1.4" fill="none"/>
<text x="347.5" y="409.3" class="lg">vsl = 0.005m/s; Fan (2017) (model)</text>
<path d="M338.4 416.3L345.6 423.5M345.6 416.3L338.4 423.5" stroke="#f0782a" stroke-width="1.4" fill="none"/>
<text x="347.5" y="423.8" class="lg">vsl = 0.01m/s; Fan (2017) (model)</text>
<path d="M338.4 430.9L345.6 438.1M345.6 430.9L338.4 438.1" stroke="#00b0f0" stroke-width="1.4" fill="none"/>
<text x="347.5" y="438.4" class="lg">vsl = 0.01m/s; Alsaadi et al. (2015) (model)</text>
<path d="M338.4 445.5L345.6 452.7M345.6 445.5L338.4 452.7" stroke="#000000" stroke-width="1.4" fill="none"/>
<text x="347.5" y="453.0" class="lg">vsl = 0.02m/s; Alsaadi et al. (2015) (model)</text>
<path d="M338.5 460.1L345.5 467.1M345.5 460.1L338.5 467.1M342.0 460.1L342.0 467.1" stroke="#c8c8c8" stroke-width="1.4" fill="none"/>
<text x="347.5" y="467.5" class="lg">vsl = 0.05m/s; Alsaadi et al. (2015) (model)</text>
<path d="M338.5 474.7L345.5 481.7M345.5 474.7L338.5 481.7M342.0 474.7L342.0 481.7" stroke="#7030a0" stroke-width="1.4" fill="none"/>
<text x="347.5" y="482.1" class="lg">vsl = 0.1m/s; Alsaadi et al. (2015) (model)</text><circle cx="163.0" cy="726.1" r="3.10" fill="#ff0000" stroke="#3a0000" stroke-width="0.9"/>
<circle cx="191.6" cy="714.4" r="3.10" fill="#ff0000" stroke="#3a0000" stroke-width="0.9"/>
<circle cx="221.9" cy="697.8" r="3.10" fill="#ff0000" stroke="#3a0000" stroke-width="0.9"/>
<circle cx="252.9" cy="680.8" r="3.10" fill="#ff0000" stroke="#3a0000" stroke-width="0.9"/>
<circle cx="282.0" cy="657.7" r="3.10" fill="#ff0000" stroke="#3a0000" stroke-width="0.9"/>
<circle cx="120.5" cy="736.1" r="3.10" fill="#00b050" stroke="#0a2a10" stroke-width="0.9"/>
<circle cx="132.0" cy="734.3" r="3.10" fill="#00b050" stroke="#0a2a10" stroke-width="0.9"/>
<circle cx="144.2" cy="732.4" r="3.10" fill="#00b050" stroke="#0a2a10" stroke-width="0.9"/>
<circle cx="161.5" cy="724.6" r="3.10" fill="#00b050" stroke="#0a2a10" stroke-width="0.9"/>
<path d="M163.5 714.5L167.0 718.0L163.5 721.5L160.0 718.0Z" fill="#ffc000" stroke="#1a1a1a" stroke-width="0.9"/>
<path d="M193.0 702.9L196.5 706.4L193.0 709.9L189.5 706.4Z" fill="#ffc000" stroke="#1a1a1a" stroke-width="0.9"/>
<path d="M223.5 685.6L227.0 689.1L223.5 692.6L220.0 689.1Z" fill="#ffc000" stroke="#1a1a1a" stroke-width="0.9"/>
<path d="M254.7 666.0L258.2 669.5L254.7 673.0L251.2 669.5Z" fill="#ffc000" stroke="#1a1a1a" stroke-width="0.9"/>
<path d="M284.2 640.7L287.7 644.2L284.2 647.7L280.7 644.2Z" fill="#ffc000" stroke="#1a1a1a" stroke-width="0.9"/>
<path d="M164.0 708.5L167.5 712.0L164.0 715.5L160.5 712.0Z" fill="#00b0f0" stroke="#00a050" stroke-width="0.9"/>
<path d="M193.6 696.6L197.1 700.1L193.6 703.6L190.1 700.1Z" fill="#00b0f0" stroke="#00a050" stroke-width="0.9"/>
<path d="M224.1 676.5L227.6 680.0L224.1 683.5L220.6 680.0Z" fill="#00b0f0" stroke="#00a050" stroke-width="0.9"/>
<path d="M251.8 658.3L255.3 661.8L251.8 665.3L248.3 661.8Z" fill="#00b0f0" stroke="#00a050" stroke-width="0.9"/>
<path d="M282.5 629.4L286.0 632.9L282.5 636.4L279.0 632.9Z" fill="#00b0f0" stroke="#00a050" stroke-width="0.9"/>
<path d="M119.0 705.9L122.5 709.4L119.0 712.9L115.5 709.4Z" fill="#000000" stroke="#000000" stroke-width="0.9"/>
<path d="M131.1 705.0L134.6 708.5L131.1 712.0L127.6 708.5Z" fill="#000000" stroke="#000000" stroke-width="0.9"/>
<path d="M147.5 702.6L151.0 706.1L147.5 709.6L144.0 706.1Z" fill="#000000" stroke="#000000" stroke-width="0.9"/>
<path d="M162.0 690.6L165.5 694.1L162.0 697.6L158.5 694.1Z" fill="#000000" stroke="#000000" stroke-width="0.9"/>
<circle cx="166.0" cy="700.6" r="3.10" fill="#bfbfbf" stroke="#1a1a1a" stroke-width="0.9"/>
<circle cx="187.8" cy="687.0" r="3.10" fill="#bfbfbf" stroke="#1a1a1a" stroke-width="0.9"/>
<circle cx="224.1" cy="664.7" r="3.10" fill="#bfbfbf" stroke="#1a1a1a" stroke-width="0.9"/>
<circle cx="252.5" cy="645.0" r="3.10" fill="#bfbfbf" stroke="#1a1a1a" stroke-width="0.9"/>
<circle cx="275.8" cy="614.3" r="3.10" fill="#bfbfbf" stroke="#1a1a1a" stroke-width="0.9"/>
<circle cx="127.4" cy="691.6" r="3.10" fill="#7030a0" stroke="#1a0a20" stroke-width="0.9"/>
<circle cx="141.9" cy="689.2" r="3.10" fill="#7030a0" stroke="#1a0a20" stroke-width="0.9"/>
<circle cx="155.5" cy="676.3" r="3.10" fill="#7030a0" stroke="#1a0a20" stroke-width="0.9"/>
<path d="M160.0 723.1L168.0 731.1M168.0 723.1L160.0 731.1" stroke="#ff0000" stroke-width="1.4" fill="none"/>
<path d="M188.0 714.4L196.0 722.4M196.0 714.4L188.0 722.4" stroke="#ff0000" stroke-width="1.4" fill="none"/>
<path d="M217.9 694.9L225.9 702.9M225.9 694.9L217.9 702.9" stroke="#ff0000" stroke-width="1.4" fill="none"/>
<path d="M248.9 672.0L256.9 680.0M256.9 672.0L248.9 680.0" stroke="#ff0000" stroke-width="1.4" fill="none"/>
<path d="M278.5 643.0L286.5 651.0M286.5 643.0L278.5 651.0" stroke="#ff0000" stroke-width="1.4" fill="none"/>
<path d="M116.6 727.6L124.4 735.4M124.4 727.6L116.6 735.4M120.5 727.6L120.5 735.4" stroke="#00b050" stroke-width="1.4" fill="none"/>
<path d="M128.1 726.1L135.9 733.9M135.9 726.1L128.1 733.9M132.0 726.1L132.0 733.9" stroke="#00b050" stroke-width="1.4" fill="none"/>
<path d="M140.3 723.3L148.1 731.1M148.1 723.3L140.3 731.1M144.2 723.3L144.2 731.1" stroke="#00b050" stroke-width="1.4" fill="none"/>
<path d="M158.1 712.2L165.9 720.0M165.9 712.2L158.1 720.0M162.0 712.2L162.0 720.0" stroke="#00b050" stroke-width="1.4" fill="none"/>
<path d="M159.5 716.1L167.5 724.1M167.5 716.1L159.5 724.1" stroke="#f0782a" stroke-width="1.4" fill="none"/>
<path d="M188.2 707.0L196.2 715.0M196.2 707.0L188.2 715.0" stroke="#f0782a" stroke-width="1.4" fill="none"/>
<path d="M220.0 675.5L228.0 683.5M228.0 675.5L220.0 683.5" stroke="#f0782a" stroke-width="1.4" fill="none"/>
<path d="M250.5 654.0L258.5 662.0M258.5 654.0L250.5 662.0" stroke="#f0782a" stroke-width="1.4" fill="none"/>
<path d="M279.9 615.4L287.9 623.4M287.9 615.4L279.9 623.4" stroke="#f0782a" stroke-width="1.4" fill="none"/>
<path d="M160.0 709.1L168.0 717.1M168.0 709.1L160.0 717.1" stroke="#00b0f0" stroke-width="1.4" fill="none"/>
<path d="M189.1 698.5L197.1 706.5M197.1 698.5L189.1 706.5" stroke="#00b0f0" stroke-width="1.4" fill="none"/>
<path d="M220.1 674.2L228.1 682.2M228.1 674.2L220.1 682.2" stroke="#00b0f0" stroke-width="1.4" fill="none"/>
<path d="M278.3 603.0L286.3 611.0M286.3 603.0L278.3 611.0" stroke="#00b0f0" stroke-width="1.4" fill="none"/>
<path d="M114.9 700.2L122.9 708.2M122.9 700.2L114.9 708.2" stroke="#000000" stroke-width="1.4" fill="none"/>
<path d="M127.1 715.2L135.1 723.2M135.1 715.2L127.1 723.2" stroke="#000000" stroke-width="1.4" fill="none"/>
<path d="M143.5 710.1L151.5 718.1M151.5 710.1L143.5 718.1" stroke="#000000" stroke-width="1.4" fill="none"/>
<path d="M156.5 700.3L164.5 708.3M164.5 700.3L156.5 708.3" stroke="#000000" stroke-width="1.4" fill="none"/>
<path d="M162.1 703.2L169.9 711.0M169.9 703.2L162.1 711.0M166.0 703.2L166.0 711.0" stroke="#c8c8c8" stroke-width="1.4" fill="none"/>
<path d="M183.7 695.5L191.5 703.3M191.5 695.5L183.7 703.3M187.6 695.5L187.6 703.3" stroke="#c8c8c8" stroke-width="1.4" fill="none"/>
<path d="M220.2 665.6L228.0 673.4M228.0 665.6L220.2 673.4M224.1 665.6L224.1 673.4" stroke="#c8c8c8" stroke-width="1.4" fill="none"/>
<path d="M249.0 633.3L256.8 641.1M256.8 633.3L249.0 641.1M252.9 633.3L252.9 641.1" stroke="#c8c8c8" stroke-width="1.4" fill="none"/>
<path d="M272.8 594.7L280.6 602.5M280.6 594.7L272.8 602.5M276.7 594.7L276.7 602.5" stroke="#c8c8c8" stroke-width="1.4" fill="none"/>
<path d="M123.5 689.1L131.3 696.9M131.3 689.1L123.5 696.9M127.4 689.1L127.4 696.9" stroke="#7030a0" stroke-width="1.4" fill="none"/>
<path d="M138.0 688.6L145.8 696.4M145.8 688.6L138.0 696.4M141.9 688.6L141.9 696.4" stroke="#7030a0" stroke-width="1.4" fill="none"/>
<path d="M151.6 678.7L159.4 686.5M159.4 678.7L151.6 686.5M155.5 678.7L155.5 686.5" stroke="#7030a0" stroke-width="1.4" fill="none"/>
<path d="M51.6 546H334V755.2" fill="none" stroke="#5c5c5c" stroke-width="1.2"/>
<path d="M51.6 546V755.2H334" fill="none" stroke="#404040" stroke-width="1.2"/>
<path d="M62.90 755.2v-2.9M74.19 755.2v-2.9M85.49 755.2v-2.9M96.78 755.2v-2.9M108.08 755.2v-2.9M119.38 755.2v-2.9M130.67 755.2v-2.9M141.97 755.2v-2.9M153.26 755.2v-2.9M164.56 755.2v-2.9M175.86 755.2v-2.9M187.15 755.2v-2.9M198.45 755.2v-2.9M209.74 755.2v-2.9M221.04 755.2v-2.9M232.34 755.2v-2.9M243.63 755.2v-2.9M254.93 755.2v-2.9M266.22 755.2v-2.9M277.52 755.2v-2.9M288.82 755.2v-2.9M300.11 755.2v-2.9M311.41 755.2v-2.9M322.70 755.2v-2.9M51.6 741.25h2.9M51.6 727.31h2.9M51.6 713.36h2.9M51.6 699.41h2.9M51.6 685.47h2.9M51.6 671.52h2.9M51.6 657.57h2.9M51.6 643.63h2.9M51.6 629.68h2.9M51.6 615.73h2.9M51.6 601.79h2.9M51.6 587.84h2.9M51.6 573.89h2.9M51.6 559.95h2.9" stroke="#404040" stroke-width="1" fill="none"/>
<text x="51.6" y="772.2" text-anchor="middle" class="tl">0</text>
<text x="108.1" y="772.2" text-anchor="middle" class="tl">20</text>
<text x="164.6" y="772.2" text-anchor="middle" class="tl">40</text>
<text x="221.0" y="772.2" text-anchor="middle" class="tl">60</text>
<text x="277.5" y="772.2" text-anchor="middle" class="tl">80</text>
<text x="334.0" y="772.2" text-anchor="middle" class="tl">100</text>
<text x="42" y="758.4" text-anchor="end" class="tl">0</text>
<text x="42" y="688.7" text-anchor="end" class="tl">1000</text>
<text x="42" y="618.9" text-anchor="end" class="tl">2000</text>
<text x="42" y="549.2" text-anchor="end" class="tl">3000</text>
<text transform="translate(16.8 648.4) rotate(-90)" text-anchor="middle" class="at">dp/dL (Pa/m)</text>
<text x="192.8" y="791.5" text-anchor="middle" class="at">v<tspan class="sub" dy="2.2">SG</tspan><tspan dy="-2.2"> (m/s)</tspan></text>
<text x="64.1" y="564.8" class="th"><tspan font-style="italic">θ</tspan> = 75°</text>
<circle cx="346.5" cy="554.7" r="3.10" fill="#ff0000" stroke="#3a0000" stroke-width="0.9"/>
<text x="352.7" y="558.3" class="lg">vsl = 0.0035m/s; Magrini (2009)</text>
<circle cx="346.5" cy="569.4" r="3.10" fill="#00b050" stroke="#0a2a10" stroke-width="0.9"/>
<text x="352.7" y="573.0" class="lg">vsl = 0.01m/s; Guner et al. (2015)</text>
<path d="M346.5 580.5L350.0 584.0L346.5 587.5L343.0 584.0Z" fill="#ffc000" stroke="#1a1a1a" stroke-width="0.9"/>
<text x="352.7" y="587.6" class="lg">vsl = 0.01m/s; Magrini (2009)</text>
<path d="M346.5 595.2L350.0 598.7L346.5 602.2L343.0 598.7Z" fill="#00b0f0" stroke="#00a050" stroke-width="0.9"/>
<text x="352.7" y="602.3" class="lg">vsl = 0.02m/s; Magrini (2009)</text>
<path d="M346.5 609.8L350.0 613.3L346.5 616.8L343.0 613.3Z" fill="#000000" stroke="#000000" stroke-width="0.9"/>
<text x="352.7" y="616.9" class="lg">vsl = 0.05m/s; Guner et al. (2015)</text>
<circle cx="346.5" cy="628.0" r="3.10" fill="#bfbfbf" stroke="#1a1a1a" stroke-width="0.9"/>
<text x="352.7" y="631.6" class="lg">vsl = 0.04m/s; Magrini (2009)</text>
<circle cx="346.5" cy="642.6" r="3.10" fill="#7030a0" stroke="#1a0a20" stroke-width="0.9"/>
<text x="352.7" y="646.2" class="lg">vsl = 0.1m/s; Guner et al. (2015)</text>
<path d="M342.9 653.6L350.1 660.9M350.1 653.6L342.9 660.9" stroke="#ff0000" stroke-width="1.4" fill="none"/>
<text x="352.7" y="660.9" class="lg">vsl = 0.0035m/s; Magrini (2009) (model)</text>
<path d="M343.0 668.4L350.0 675.4M350.0 668.4L343.0 675.4M346.5 668.4L346.5 675.4" stroke="#00b050" stroke-width="1.4" fill="none"/>
<text x="352.7" y="675.5" class="lg">vsl = 0.01m/s; Guner et al. (2015) (model)</text>
<path d="M342.9 683.0L350.1 690.2M350.1 683.0L342.9 690.2" stroke="#f0782a" stroke-width="1.4" fill="none"/>
<text x="352.7" y="690.2" class="lg">vsl = 0.01m/s; Magrini (2009) (model)</text>
<path d="M342.9 697.6L350.1 704.8M350.1 697.6L342.9 704.8" stroke="#00b0f0" stroke-width="1.4" fill="none"/>
<text x="352.7" y="704.8" class="lg">vsl = 0.02m/s; Magrini (2009) (model)</text>
<path d="M342.9 712.2L350.1 719.5M350.1 712.2L342.9 719.5" stroke="#000000" stroke-width="1.4" fill="none"/>
<text x="352.7" y="719.5" class="lg">vsl = 0.05m/s; Guner et al. (2015) (model)</text>
<path d="M343.0 727.0L350.0 734.0M350.0 727.0L343.0 734.0M346.5 727.0L346.5 734.0" stroke="#c8c8c8" stroke-width="1.4" fill="none"/>
<text x="352.7" y="734.1" class="lg">vsl = 0.04m/s; Magrini (2009) (model)</text>
<path d="M343.0 741.6L350.0 748.7M350.0 741.6L343.0 748.7M346.5 741.6L346.5 748.7" stroke="#7030a0" stroke-width="1.4" fill="none"/>
<text x="352.7" y="748.8" class="lg">vsl = 0.1m/s; Guner et al. (2015) (model)</text>
</svg></body></html>
